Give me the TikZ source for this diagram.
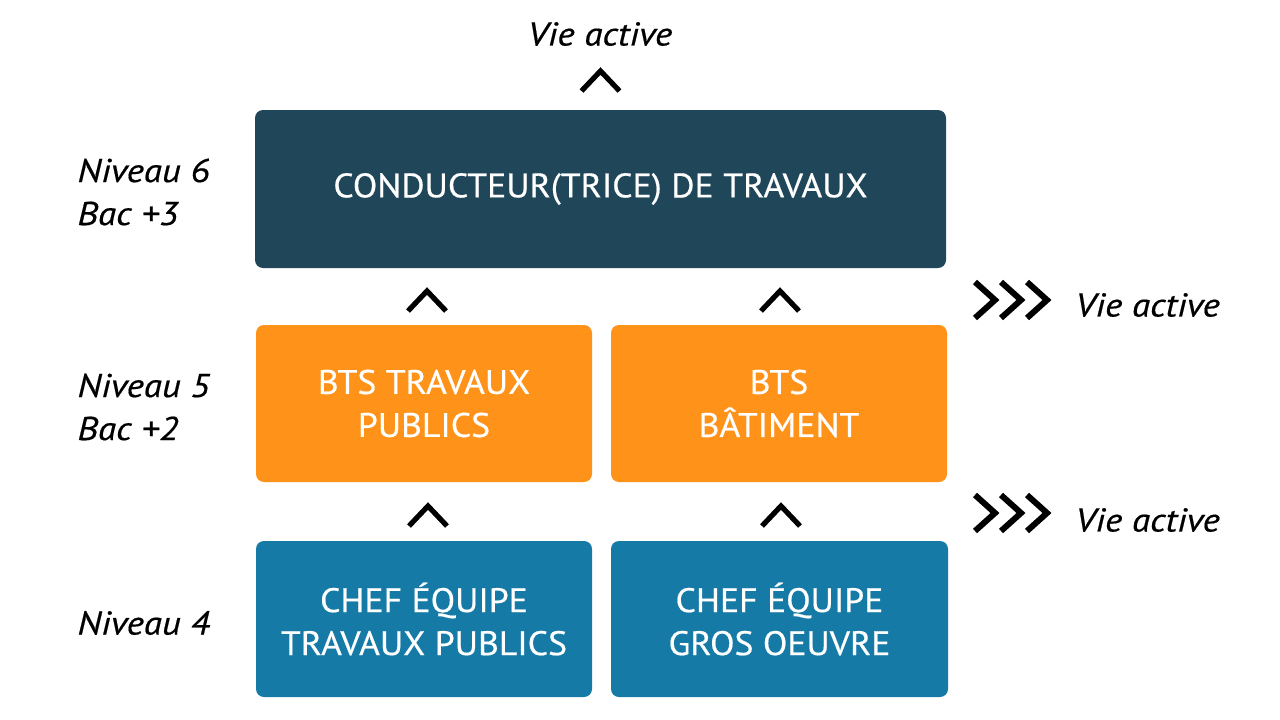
\documentclass[tikz,border=0pt]{standalone}
\usepackage{fontspec}
\setmainfont{PT Sans}
\newfontfamily\boxfont[FakeStretch=1.05,FakeBold=0.5]{PT Sans}
\newfontfamily\labfont[FakeStretch=1.12,FakeBold=0.5]{PT Sans}
\definecolor{darkteal}{HTML}{1F4759}
\definecolor{orangebox}{HTML}{FF931A}
\definecolor{bluebox}{HTML}{157AA6}
\tikzset{
  box/.style={rounded corners=8pt, inner sep=0pt, align=center, text=white,
    font=\boxfont\fontsize{34}{43}\selectfont},
  lvl/.style={anchor=west, align=left, font=\labfont\fontsize{33}{43}\selectfont\itshape},
  vie/.style={font=\labfont\fontsize{33}{36}\selectfont\itshape},
  upchev/.style={line width=5.2pt, miter limit=10},
  rchev/.style={line width=6pt, miter limit=10}
}
\begin{document}
\begin{tikzpicture}[x=1pt,y=-1pt]
\useasboundingbox (0,0) rectangle (1280,720);
% boxes
\node[box, fill=darkteal, minimum width=691pt, minimum height=158pt] (cond) at (600.5,189) {CONDUCTEUR(TRICE) DE TRAVAUX};
\node[box, fill=orangebox, minimum width=336pt, minimum height=157pt] (btstp) at (424,403.5) {BTS TRAVAUX\\PUBLICS};
\node[box, fill=orangebox, minimum width=336pt, minimum height=157pt] (btsb) at (779,403.5) {BTS\\BÂTIMENT};
\node[box, fill=bluebox, minimum width=336pt, minimum height=156pt] (chtp) at (424,619) {CHEF ÉQUIPE\\TRAVAUX PUBLICS};
\node[box, fill=bluebox, minimum width=337pt, minimum height=156pt] (chgo) at (779.5,619) {CHEF ÉQUIPE\\GROS OEUVRE};
% level labels
\node[lvl] (n6) at (74,192) {Niveau 6\\Bac +3};
\node[lvl] (n5) at (74,407) {Niveau 5\\Bac +2};
\node[lvl] (n4) at (74,623) {Niveau 4};
% top vie active
\node[vie] (vtop) at (600,34) {Vie active};
% up chevrons (apex y, ends y)
\foreach \cx/\ay/\ey in {600.5/71/91, 427/291/311, 780/291/311, 428/506/526, 781/506/526}{
  \draw[upchev] (\cx-19,\ey) -- (\cx,\ay) -- (\cx+19,\ey);
}
% right side
\foreach \cy/\ty/\nm in {300/305/va1, 513/520/va2}{
  \foreach \dx in {0,26,52}{
    \draw[rchev] (975+\dx,\cy-18) -- (995+\dx,\cy) -- (975+\dx,\cy+18);
  }
  \node[vie, anchor=west] (\nm) at (1072,\ty) {Vie active};
}
\end{tikzpicture}
\end{document}
